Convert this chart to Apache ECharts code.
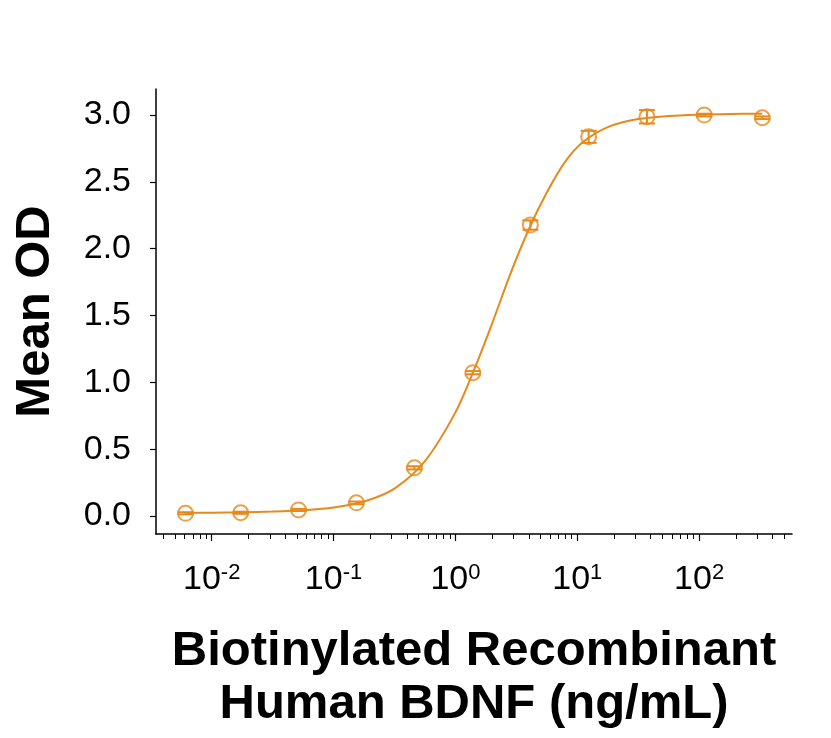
<!DOCTYPE html>
<html>
<head>
<meta charset="utf-8">
<script src="https://cdn.jsdelivr.net/npm/echarts@6/dist/echarts.min.js"></script>
<style>
  html, body { margin: 0; padding: 0; background: #fff; }
  #main { width: 831px; height: 738px; }
</style>
</head>
<body>
<div id="main"></div>
<script>
// 测量点 (ng/mL) 与 OD
var conc = [0.0061, 0.0173, 0.0516, 0.154, 0.461, 1.39, 4.12, 12.4, 37.3, 110, 330];
var meanOD = [0.020, 0.024, 0.045, 0.098, 0.360, 1.072, 2.177, 2.837, 2.987, 3.000, 2.980];
var errOD = [0.008, 0.008, 0.008, 0.010, 0.012, 0.012, 0.035, 0.045, 0.050, 0.010, 0.010];

// 拟合曲线
var curveConc = [0.0061, 0.01, 0.0178, 0.0316, 0.0562, 0.1, 0.178, 0.316, 0.562, 1, 1.41, 2.0, 2.82, 3.98, 5.62, 7.94, 11.2, 17.8, 31.6, 56.2, 100, 178, 330];
var curveOD = [0.022, 0.024, 0.027, 0.033, 0.043, 0.063, 0.108, 0.205, 0.41, 0.775, 1.085, 1.44, 1.81, 2.14, 2.42, 2.65, 2.80, 2.91, 2.97, 2.993, 3.003, 3.008, 3.01];

// 刻度
var xTickVals = [-2, -1, 0, 1, 2];
var xTickExps = ['-2', '-1', '0', '1', '2'];
var yTickVals = [0, 0.5, 1.0, 1.5, 2.0, 2.5, 3.0];
var yTickLabels = ['0.0', '0.5', '1.0', '1.5', '2.0', '2.5', '3.0'];

var xMin = -2.457, xMax = 2.762;
var yMin = -0.135, yMax = 3.195;
var orange = '#E68A1C';
var font = "'Liberation Sans', Arial, sans-serif";

// 次刻度 2..9 x 10^n
var minorTicks = [];
for (var n = -3; n <= 2; n++) {
    for (var k = 2; k <= 9; k++) {
        var v = Math.log10(k) + n;
        if (v > xMin && v < xMax) minorTicks.push(v);
    }
}

var pts = [], bars = [], curve = [];
for (var i = 0; i < conc.length; i++) {
    pts.push([Math.log10(conc[i]), meanOD[i]]);
    bars.push([Math.log10(conc[i]), meanOD[i] - errOD[i], meanOD[i] + errOD[i]]);
}
for (var j = 0; j < curveConc.length; j++) {
    curve.push([Math.log10(curveConc[j]), curveOD[j]]);
}

var myChart = echarts.init(document.getElementById('main'));

let option = {
    animation: false,
    backgroundColor: '#fff',
    grid: { left: 156, right: 39, top: 89, bottom: 204, containLabel: false, outerBoundsMode: 'none' },
    xAxis: [
        {
            type: 'value',
            min: xMin,
            max: xMax,
            position: 'bottom',
            name: 'Biotinylated Recombinant\nHuman BDNF (ng/mL)',
            nameLocation: 'middle',
            nameGap: 91,
            nameTextStyle: { fontFamily: font, fontWeight: 'bold', fontSize: 49, color: '#000', lineHeight: 53, verticalAlign: 'top' },
            axisLine: { show: true, onZero: false, lineStyle: { color: '#000', width: 1.5 } },
            axisTick: { show: true, customValues: xTickVals, length: 7, lineStyle: { color: '#000', width: 1.2 } },
            axisLabel: {
                show: true,
                customValues: xTickVals,
                margin: 28,
                formatter: function (v) {
                    var idx = xTickVals.indexOf(Math.round(v));
                    return '{b|10}{s|' + xTickExps[idx] + '}';
                },
                rich: {
                    b: { fontFamily: font, fontSize: 34, color: '#000', lineHeight: 36 },
                    s: { fontFamily: font, fontSize: 22, color: '#000', lineHeight: 36, verticalAlign: 'top', padding: [0, 0, 12, 0] }
                }
            },
            splitLine: { show: false }
        },
        {
            type: 'value',
            min: xMin,
            max: xMax,
            position: 'bottom',
            axisLine: { show: false, onZero: false },
            axisTick: { show: true, customValues: minorTicks, length: 5, lineStyle: { color: '#000', width: 1 } },
            axisLabel: { show: false },
            splitLine: { show: false }
        }
    ],
    yAxis: {
        type: 'value',
        min: yMin,
        max: yMax,
        name: 'Mean OD',
        nameLocation: 'middle',
        nameGap: 96,
        nameTextStyle: { fontFamily: font, fontWeight: 'bold', fontSize: 49, color: '#000' },
        axisLine: { show: true, onZero: false, lineStyle: { color: '#000', width: 1.5 } },
        axisTick: { show: true, customValues: yTickVals, length: 6, lineStyle: { color: '#000', width: 1.2 } },
        axisLabel: {
            show: true,
            customValues: yTickVals,
            margin: 25,
            fontFamily: font,
            fontSize: 34,
            color: '#000',
            formatter: function (v) {
                var idx = yTickVals.indexOf(Math.round(v * 10) / 10);
                return yTickLabels[idx];
            }
        },
        splitLine: { show: false }
    },
    series: [
        {
            name: 'fit',
            type: 'line',
            data: curve,
            smooth: 0.3,
            showSymbol: false,
            symbol: 'none',
            lineStyle: { color: orange, width: 2 },
            z: 2
        },
        {
            name: 'err',
            type: 'custom',
            data: bars,
            z: 3,
            renderItem: function (params, api) {
                var x = api.value(0);
                var lo = api.coord([x, api.value(1)]);
                var hi = api.coord([x, api.value(2)]);
                var w = 8;
                var st = { stroke: orange, lineWidth: 2 };
                return {
                    type: 'group',
                    children: [
                        { type: 'line', shape: { x1: lo[0], y1: lo[1], x2: hi[0], y2: hi[1] }, style: st },
                        { type: 'line', shape: { x1: lo[0] - w, y1: lo[1], x2: lo[0] + w, y2: lo[1] }, style: st },
                        { type: 'line', shape: { x1: hi[0] - w, y1: hi[1], x2: hi[0] + w, y2: hi[1] }, style: st }
                    ]
                };
            }
        },
        {
            name: 'mean',
            type: 'scatter',
            data: pts,
            symbol: 'circle',
            symbolSize: 15,
            itemStyle: { color: 'rgba(255,255,255,0)', borderColor: orange, borderWidth: 2 },
            z: 4
        }
    ]
};

myChart.setOption(option, true);
</script>
</body>
</html>
